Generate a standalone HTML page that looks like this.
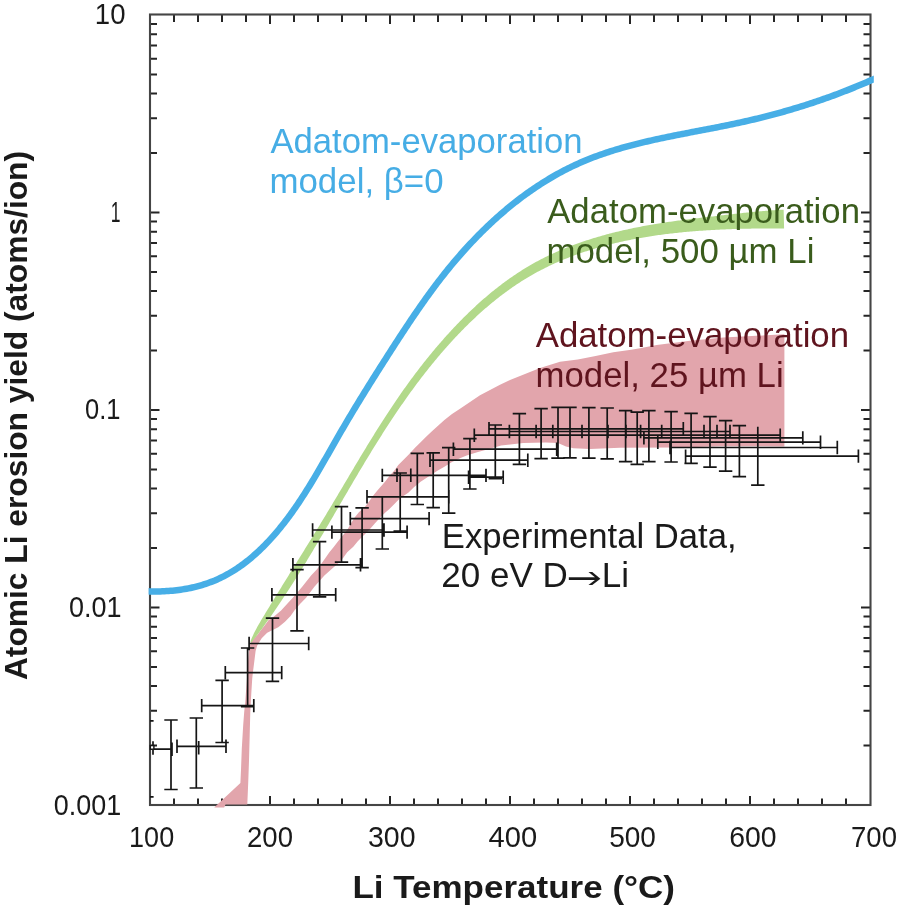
<!DOCTYPE html>
<html><head><meta charset="utf-8"><title>Li erosion yield</title>
<style>
html,body{margin:0;padding:0;background:#fff;}
svg{display:block;}
text{font-family:"Liberation Sans",Arial,sans-serif;}
</style></head>
<body>
<svg width="900" height="909" viewBox="0 0 900 909">
<rect width="900" height="909" fill="#fff"/>
<path d="M174.00 805V798.5M174.00 14.5V22.0M198.00 805V798.5M198.00 14.5V22.0M222.00 805V798.5M222.00 14.5V22.0M246.00 805V798.5M246.00 14.5V22.0M270.00 805V796M270.00 14.5V24.0M294.00 805V798.5M294.00 14.5V22.0M318.00 805V798.5M318.00 14.5V22.0M342.00 805V798.5M342.00 14.5V22.0M366.00 805V798.5M366.00 14.5V22.0M390.00 805V796M390.00 14.5V24.0M414.00 805V798.5M414.00 14.5V22.0M438.00 805V798.5M438.00 14.5V22.0M462.00 805V798.5M462.00 14.5V22.0M486.00 805V798.5M486.00 14.5V22.0M510.00 805V796M510.00 14.5V24.0M534.00 805V798.5M534.00 14.5V22.0M558.00 805V798.5M558.00 14.5V22.0M582.00 805V798.5M582.00 14.5V22.0M606.00 805V798.5M606.00 14.5V22.0M630.00 805V796M630.00 14.5V24.0M654.00 805V798.5M654.00 14.5V22.0M678.00 805V798.5M678.00 14.5V22.0M702.00 805V798.5M702.00 14.5V22.0M726.00 805V798.5M726.00 14.5V22.0M750.00 805V796M750.00 14.5V24.0M774.00 805V798.5M774.00 14.5V22.0M798.00 805V798.5M798.00 14.5V22.0M822.00 805V798.5M822.00 14.5V22.0M846.00 805V798.5M846.00 14.5V22.0M150 745.55H157M870.5 745.55H863.5M150 710.77H157M870.5 710.77H863.5M150 686.09H157M870.5 686.09H863.5M150 666.95H157M870.5 666.95H863.5M150 651.32H157M870.5 651.32H863.5M150 638.09H157M870.5 638.09H863.5M150 626.64H157M870.5 626.64H863.5M150 616.54H157M870.5 616.54H863.5M150 607.50H159.5M870.5 607.50H861.0M150 548.05H157M870.5 548.05H863.5M150 513.27H157M870.5 513.27H863.5M150 488.59H157M870.5 488.59H863.5M150 469.45H157M870.5 469.45H863.5M150 453.82H157M870.5 453.82H863.5M150 440.59H157M870.5 440.59H863.5M150 429.14H157M870.5 429.14H863.5M150 419.04H157M870.5 419.04H863.5M150 410.00H159.5M870.5 410.00H861.0M150 350.55H157M870.5 350.55H863.5M150 315.77H157M870.5 315.77H863.5M150 291.09H157M870.5 291.09H863.5M150 271.95H157M870.5 271.95H863.5M150 256.32H157M870.5 256.32H863.5M150 243.09H157M870.5 243.09H863.5M150 231.64H157M870.5 231.64H863.5M150 221.54H157M870.5 221.54H863.5M150 212.50H159.5M870.5 212.50H861.0M150 153.05H157M870.5 153.05H863.5M150 118.27H157M870.5 118.27H863.5M150 93.59H157M870.5 93.59H863.5M150 74.45H157M870.5 74.45H863.5M150 58.82H157M870.5 58.82H863.5M150 45.59H157M870.5 45.59H863.5M150 34.14H157M870.5 34.14H863.5M150 24.04H157M870.5 24.04H863.5" stroke="#252525" stroke-width="2" fill="none"/>
<rect x="150" y="14.5" width="720.5" height="790.5" fill="none" stroke="#454545" stroke-width="2.1"/>
<path d="M214.20 807.60 L224.20 807.60 L225.50 804.60 L247.30 804.50 L248.20 783.00 L249.00 760.60 L249.70 735.00 L250.30 712.00 L250.90 700.00 L252.20 678.90 L252.80 673.30 L254.20 662.20 L255.60 651.10 L257.20 645.60 L258.90 642.80 L261.70 638.30 L267.20 632.80 L278.30 627.20 L285.00 621.70 L290.60 616.10 L294.40 610.60 L300.00 604.00 L306.10 597.80 L314.40 586.70 L324.40 575.60 L331.70 568.90 L338.30 563.30 L343.30 557.80 L347.20 552.20 L353.30 546.70 L358.00 541.00 L364.00 535.00 L370.00 528.90 L375.00 523.30 L380.00 517.80 L385.60 512.20 L388.90 509.40 L394.40 503.90 L400.00 498.30 L408.30 492.80 L413.90 487.20 L420.60 481.70 L429.40 476.10 L437.00 471.00 L444.40 466.70 L452.00 462.00 L461.10 457.80 L466.70 455.60 L478.00 452.00 L488.90 448.90 L501.10 445.50 L523.30 443.00 L545.60 442.40 L558.00 443.00 L566.00 446.50 L573.30 448.30 L590.00 449.00 L620.00 447.80 L680.00 447.50 L720.00 446.30 L760.00 446.30 L784.40 446.50 L784.40 334.20 L756.70 335.80 L723.30 337.50 L690.00 340.80 L656.70 345.00 L640.00 348.30 L631.10 349.70 L613.30 352.30 L595.60 355.90 L577.80 359.40 L560.00 361.70 L540.00 368.00 L520.00 376.00 L510.00 380.00 L500.00 384.70 L490.00 390.00 L480.00 395.30 L470.00 402.00 L460.00 408.70 L452.00 414.00 L444.40 420.00 L438.30 425.60 L432.20 431.10 L426.10 436.70 L420.60 442.20 L415.00 447.80 L408.30 455.00 L398.30 465.00 L394.40 470.60 L389.40 476.10 L385.00 481.70 L377.80 490.00 L373.30 495.60 L369.40 501.10 L365.00 506.70 L358.90 512.20 L354.40 517.80 L351.10 523.30 L347.80 528.90 L342.80 535.60 L338.30 541.10 L333.90 546.70 L329.40 552.20 L325.60 557.80 L321.70 563.30 L317.20 568.90 L311.10 575.60 L302.20 586.70 L292.80 597.80 L286.10 605.00 L281.10 610.60 L274.00 616.50 L268.70 620.00 L265.00 625.00 L261.00 630.00 L257.30 635.00 L253.00 639.50 L251.10 641.50 L250.00 645.60 L248.90 651.10 L248.00 662.20 L247.50 673.30 L246.90 678.90 L245.40 700.00 L244.20 712.10 L243.20 725.00 L241.80 748.40 L241.00 770.00 L240.40 783.00Z" fill="#e2a5ac"/>
<path d="M250.44 641.44 L250.94 640.13 L251.47 638.82 L252.02 637.51 L252.60 636.21 L253.20 634.90 L253.82 633.60 L254.46 632.29 L255.13 630.99 L255.81 629.69 L256.50 628.39 L257.21 627.09 L257.94 625.79 L258.67 624.49 L259.42 623.19 L260.18 621.90 L260.94 620.60 L261.71 619.31 L262.49 618.01 L263.26 616.72 L264.05 615.43 L264.83 614.13 L265.61 612.84 L266.39 611.55 L267.17 610.26 L267.96 608.97 L268.74 607.68 L269.53 606.39 L270.31 605.11 L271.10 603.82 L271.88 602.53 L272.67 601.25 L273.46 599.96 L274.24 598.68 L275.03 597.39 L275.82 596.11 L276.61 594.83 L277.39 593.55 L278.18 592.26 L278.97 590.98 L279.76 589.70 L280.55 588.42 L281.34 587.14 L282.13 585.86 L282.92 584.58 L283.71 583.30 L284.50 582.02 L285.29 580.74 L286.08 579.47 L286.87 578.19 L287.66 576.91 L288.45 575.63 L289.24 574.36 L290.03 573.08 L290.82 571.80 L291.61 570.53 L292.40 569.25 L293.19 567.98 L293.98 566.70 L294.77 565.43 L295.56 564.15 L296.35 562.88 L297.14 561.60 L297.93 560.33 L298.72 559.05 L299.51 557.78 L300.30 556.50 L301.09 555.23 L301.88 553.95 L302.67 552.68 L303.46 551.41 L304.24 550.13 L305.03 548.86 L305.82 547.58 L306.61 546.31 L307.39 545.03 L308.18 543.76 L308.97 542.48 L309.75 541.21 L310.54 539.94 L311.32 538.66 L312.11 537.39 L312.89 536.11 L313.67 534.84 L314.46 533.56 L315.24 532.28 L316.02 531.01 L316.80 529.73 L317.58 528.46 L318.36 527.18 L319.14 525.90 L319.92 524.63 L320.70 523.35 L321.48 522.07 L322.26 520.79 L323.03 519.51 L323.81 518.24 L324.59 516.96 L325.36 515.68 L326.13 514.40 L326.91 513.12 L327.68 511.84 L328.45 510.56 L329.22 509.27 L329.99 507.99 L330.76 506.71 L331.53 505.43 L332.30 504.14 L333.07 502.86 L333.83 501.58 L334.60 500.29 L335.36 499.01 L336.13 497.72 L336.89 496.44 L337.66 495.15 L338.42 493.87 L339.18 492.58 L339.95 491.29 L340.71 490.01 L341.47 488.72 L342.24 487.44 L343.00 486.15 L343.76 484.86 L344.52 483.58 L345.28 482.29 L346.05 481.00 L346.81 479.72 L347.57 478.43 L348.33 477.14 L349.10 475.86 L349.86 474.57 L350.62 473.28 L351.38 472.00 L352.15 470.71 L352.91 469.43 L353.68 468.14 L354.44 466.86 L355.21 465.57 L355.97 464.29 L356.74 463.00 L357.51 461.72 L358.27 460.44 L359.04 459.15 L359.81 457.87 L360.58 456.59 L361.35 455.31 L362.12 454.02 L362.89 452.74 L363.67 451.46 L364.44 450.18 L365.22 448.90 L365.99 447.63 L366.77 446.35 L367.55 445.07 L368.33 443.79 L369.11 442.52 L369.89 441.24 L370.67 439.97 L371.46 438.69 L372.24 437.42 L373.03 436.15 L373.82 434.88 L374.61 433.61 L375.40 432.34 L376.19 431.07 L376.99 429.80 L377.79 428.53 L378.58 427.27 L379.38 426.00 L380.19 424.74 L380.99 423.47 L381.79 422.21 L382.60 420.95 L383.41 419.69 L384.22 418.43 L385.03 417.17 L385.85 415.92 L386.66 414.66 L387.48 413.41 L388.30 412.15 L389.13 410.90 L389.95 409.65 L390.78 408.40 L391.61 407.15 L392.44 405.91 L393.28 404.66 L394.11 403.42 L394.95 402.18 L395.80 400.93 L396.64 399.69 L397.49 398.46 L398.34 397.22 L399.19 395.98 L400.05 394.75 L400.90 393.52 L401.76 392.29 L402.63 391.06 L403.49 389.83 L404.36 388.60 L405.23 387.38 L406.11 386.16 L406.99 384.94 L407.87 383.72 L408.75 382.50 L409.64 381.29 L410.53 380.07 L411.42 378.86 L412.31 377.65 L413.21 376.44 L414.11 375.24 L415.01 374.03 L415.92 372.83 L416.83 371.63 L417.74 370.44 L418.66 369.24 L419.58 368.05 L420.50 366.86 L421.42 365.67 L422.35 364.48 L423.28 363.30 L424.22 362.11 L425.15 360.93 L426.09 359.76 L427.04 358.58 L427.98 357.41 L428.93 356.24 L429.88 355.07 L430.84 353.91 L431.80 352.74 L432.76 351.58 L433.73 350.43 L434.69 349.27 L435.67 348.12 L436.64 346.97 L437.62 345.82 L438.60 344.68 L439.58 343.54 L440.57 342.40 L441.56 341.26 L442.56 340.13 L443.55 339.00 L444.55 337.87 L445.56 336.75 L446.57 335.62 L447.58 334.51 L448.59 333.39 L449.61 332.28 L450.63 331.17 L451.65 330.06 L452.68 328.96 L453.71 327.86 L454.74 326.76 L455.78 325.67 L456.82 324.58 L457.87 323.49 L458.92 322.41 L459.97 321.33 L461.02 320.26 L462.08 319.18 L463.14 318.12 L464.21 317.05 L465.28 315.99 L466.35 314.94 L467.42 313.88 L468.50 312.83 L469.59 311.79 L470.67 310.75 L471.76 309.71 L472.86 308.68 L473.95 307.66 L475.05 306.63 L476.16 305.61 L477.27 304.60 L478.38 303.59 L479.49 302.59 L480.61 301.59 L481.73 300.59 L482.86 299.60 L483.99 298.62 L485.12 297.64 L486.26 296.67 L487.40 295.70 L488.55 294.73 L489.69 293.77 L490.85 292.82 L492.00 291.87 L493.16 290.93 L494.33 289.99 L495.49 289.06 L496.66 288.13 L497.84 287.21 L499.02 286.30 L500.20 285.39 L501.39 284.49 L502.58 283.59 L503.77 282.70 L504.97 281.82 L506.17 280.94 L507.38 280.07 L508.59 279.20 L509.80 278.34 L511.02 277.49 L512.24 276.64 L513.47 275.80 L514.70 274.97 L515.93 274.14 L517.17 273.32 L518.41 272.51 L519.65 271.70 L520.90 270.90 L522.16 270.11 L523.41 269.33 L524.68 268.55 L525.94 267.78 L527.21 267.01 L528.48 266.26 L529.76 265.51 L531.04 264.77 L532.33 264.03 L533.62 263.30 L534.92 262.59 L536.21 261.87 L537.52 261.17 L538.82 260.47 L540.13 259.78 L541.45 259.10 L542.76 258.43 L544.09 257.76 L545.41 257.10 L546.74 256.44 L548.07 255.80 L549.41 255.16 L550.75 254.52 L552.09 253.90 L553.44 253.28 L554.79 252.67 L556.15 252.06 L557.50 251.46 L558.87 250.87 L560.23 250.28 L561.60 249.71 L562.97 249.13 L564.34 248.57 L565.72 248.01 L567.10 247.46 L568.48 246.91 L569.87 246.37 L571.26 245.83 L572.65 245.31 L574.05 244.78 L575.45 244.27 L576.85 243.76 L578.25 243.25 L579.66 242.76 L581.07 242.27 L582.48 241.78 L583.90 241.30 L585.31 240.83 L586.73 240.36 L588.16 239.89 L589.58 239.44 L591.01 238.98 L592.44 238.54 L593.87 238.10 L595.31 237.66 L596.75 237.23 L598.19 236.81 L599.63 236.39 L601.07 235.98 L602.52 235.57 L603.97 235.16 L605.42 234.77 L606.87 234.37 L608.32 233.99 L609.78 233.60 L611.24 233.22 L612.70 232.85 L614.16 232.48 L615.63 232.12 L617.09 231.76 L618.56 231.41 L620.03 231.06 L621.50 230.71 L622.97 230.37 L624.45 230.04 L625.92 229.71 L627.40 229.38 L628.88 229.06 L630.36 228.74 L631.84 228.43 L633.32 228.12 L634.81 227.81 L636.29 227.51 L637.78 227.21 L639.27 226.92 L640.75 226.63 L642.24 226.35 L643.74 226.07 L645.23 225.79 L646.72 225.52 L648.22 225.25 L649.71 224.98 L651.21 224.72 L652.70 224.46 L654.20 224.21 L655.70 223.96 L657.20 223.71 L658.70 223.47 L660.20 223.23 L661.70 222.99 L663.20 222.76 L664.70 222.53 L666.21 222.30 L667.71 222.07 L669.21 221.85 L670.72 221.64 L672.22 221.42 L673.72 221.21 L675.23 221.00 L676.73 220.79 L678.24 220.59 L679.74 220.39 L681.25 220.19 L682.76 219.99 L684.26 219.80 L685.77 219.60 L687.27 219.41 L688.78 219.22 L690.28 219.04 L691.79 218.85 L693.29 218.67 L694.80 218.49 L696.30 218.31 L697.80 218.13 L699.31 217.95 L700.81 217.77 L702.31 217.60 L703.82 217.42 L705.32 217.25 L706.82 217.08 L708.32 216.90 L709.82 216.73 L711.32 216.56 L712.82 216.39 L714.31 216.22 L715.81 216.05 L717.31 215.88 L718.80 215.71 L720.30 215.54 L721.79 215.37 L723.28 215.20 L724.77 215.03 L726.26 214.86 L727.75 214.69 L729.24 214.52 L730.73 214.36 L732.21 214.19 L733.70 214.02 L735.18 213.85 L736.66 213.68 L738.14 213.52 L739.62 213.36 L741.10 213.19 L742.57 213.03 L744.05 212.87 L745.52 212.71 L746.99 212.56 L748.46 212.41 L749.93 212.25 L751.40 212.11 L752.86 211.96 L754.32 211.82 L755.78 211.68 L757.24 211.54 L758.70 211.40 L760.15 211.27 L761.61 211.14 L763.06 211.02 L764.51 210.90 L765.95 210.78 L767.40 210.67 L768.84 210.56 L770.28 210.46 L771.72 210.36 L773.15 210.26 L774.59 210.17 L776.02 210.09 L777.44 210.01 L778.87 209.93 L780.29 209.86 L781.71 209.80 L783.13 209.74 L783.65 209.72 L784.10 228.43 L782.83 228.43 L781.38 228.42 L779.93 228.42 L778.47 228.42 L777.01 228.41 L775.56 228.42 L774.10 228.42 L772.63 228.42 L771.17 228.42 L769.70 228.43 L768.24 228.43 L766.77 228.44 L765.29 228.45 L763.82 228.46 L762.35 228.47 L760.87 228.49 L759.39 228.50 L757.91 228.52 L756.43 228.54 L754.95 228.56 L753.46 228.58 L751.98 228.61 L750.49 228.63 L749.00 228.66 L747.51 228.69 L746.02 228.72 L744.53 228.75 L743.03 228.79 L741.54 228.83 L740.04 228.86 L738.55 228.91 L737.05 228.95 L735.55 229.00 L734.05 229.04 L732.55 229.09 L731.04 229.15 L729.54 229.20 L728.04 229.26 L726.53 229.32 L725.03 229.38 L723.52 229.45 L722.01 229.51 L720.50 229.58 L719.00 229.65 L717.49 229.73 L715.98 229.81 L714.47 229.89 L712.96 229.97 L711.45 230.06 L709.93 230.15 L708.42 230.24 L706.91 230.33 L705.40 230.43 L703.89 230.53 L702.37 230.63 L700.86 230.74 L699.35 230.85 L697.83 230.96 L696.32 231.08 L694.80 231.20 L693.29 231.32 L691.78 231.44 L690.26 231.57 L688.75 231.71 L687.24 231.84 L685.72 231.98 L684.21 232.12 L682.70 232.27 L681.19 232.42 L679.67 232.57 L678.16 232.73 L676.65 232.89 L675.14 233.06 L673.63 233.22 L672.12 233.40 L670.61 233.57 L669.10 233.75 L667.59 233.93 L666.08 234.12 L664.58 234.31 L663.07 234.51 L661.56 234.71 L660.06 234.91 L658.56 235.12 L657.05 235.33 L655.55 235.55 L654.05 235.77 L652.55 235.99 L651.05 236.22 L649.55 236.45 L648.05 236.69 L646.56 236.93 L645.06 237.18 L643.57 237.43 L642.08 237.69 L640.58 237.95 L639.09 238.21 L637.61 238.48 L636.12 238.75 L634.63 239.03 L633.15 239.32 L631.66 239.60 L630.18 239.90 L628.70 240.20 L627.23 240.50 L625.75 240.81 L624.27 241.12 L622.80 241.44 L621.33 241.76 L619.86 242.09 L618.39 242.42 L616.92 242.76 L615.46 243.11 L614.00 243.45 L612.54 243.81 L611.08 244.17 L609.62 244.53 L608.17 244.90 L606.72 245.28 L605.27 245.66 L603.82 246.05 L602.37 246.44 L600.93 246.84 L599.49 247.24 L598.05 247.65 L596.61 248.07 L595.18 248.49 L593.75 248.91 L592.32 249.35 L590.89 249.79 L589.47 250.23 L588.05 250.68 L586.63 251.14 L585.21 251.60 L583.80 252.07 L582.39 252.54 L580.98 253.02 L579.57 253.51 L578.17 254.00 L576.77 254.50 L575.37 255.01 L573.98 255.52 L572.59 256.04 L571.20 256.56 L569.82 257.09 L568.43 257.63 L567.06 258.17 L565.68 258.72 L564.31 259.28 L562.94 259.85 L561.57 260.42 L560.21 260.99 L558.85 261.58 L557.50 262.17 L556.14 262.77 L554.80 263.37 L553.45 263.98 L552.11 264.60 L550.77 265.23 L549.44 265.86 L548.11 266.50 L546.78 267.14 L545.45 267.80 L544.14 268.46 L542.82 269.13 L541.51 269.80 L540.20 270.48 L538.89 271.17 L537.59 271.87 L536.30 272.57 L535.00 273.29 L533.72 274.01 L532.43 274.73 L531.15 275.47 L529.88 276.21 L528.60 276.96 L527.34 277.72 L526.07 278.48 L524.81 279.25 L523.56 280.03 L522.30 280.81 L521.06 281.61 L519.81 282.41 L518.57 283.21 L517.34 284.03 L516.11 284.85 L514.88 285.67 L513.65 286.51 L512.43 287.35 L511.22 288.20 L510.01 289.05 L508.80 289.91 L507.59 290.78 L506.39 291.65 L505.20 292.53 L504.00 293.41 L502.82 294.30 L501.63 295.20 L500.45 296.11 L499.27 297.01 L498.10 297.93 L496.93 298.85 L495.77 299.78 L494.60 300.71 L493.45 301.65 L492.29 302.59 L491.14 303.54 L489.99 304.50 L488.85 305.46 L487.71 306.43 L486.58 307.40 L485.44 308.37 L484.32 309.36 L483.19 310.34 L482.07 311.33 L480.95 312.33 L479.84 313.33 L478.73 314.34 L477.62 315.35 L476.52 316.37 L475.42 317.39 L474.33 318.42 L473.24 319.45 L472.15 320.48 L471.06 321.52 L469.98 322.56 L468.90 323.61 L467.83 324.66 L466.76 325.72 L465.69 326.78 L464.63 327.85 L463.57 328.92 L462.51 329.99 L461.46 331.07 L460.41 332.15 L459.36 333.23 L458.32 334.32 L457.28 335.41 L456.25 336.51 L455.21 337.61 L454.19 338.71 L453.16 339.82 L452.14 340.93 L451.12 342.04 L450.10 343.16 L449.09 344.28 L448.08 345.40 L447.08 346.53 L446.08 347.66 L445.08 348.80 L444.08 349.93 L443.09 351.07 L442.10 352.22 L441.11 353.36 L440.13 354.51 L439.15 355.66 L438.18 356.82 L437.20 357.98 L436.23 359.14 L435.27 360.30 L434.30 361.47 L433.34 362.63 L432.39 363.81 L431.43 364.98 L430.48 366.16 L429.53 367.33 L428.59 368.52 L427.65 369.70 L426.71 370.89 L425.78 372.07 L424.84 373.26 L423.91 374.46 L422.99 375.65 L422.07 376.85 L421.15 378.05 L420.23 379.25 L419.32 380.45 L418.40 381.66 L417.50 382.87 L416.59 384.07 L415.69 385.29 L414.79 386.50 L413.90 387.71 L413.00 388.93 L412.11 390.15 L411.22 391.36 L410.34 392.59 L409.46 393.81 L408.58 395.03 L407.71 396.26 L406.83 397.48 L405.96 398.71 L405.09 399.94 L404.23 401.17 L403.37 402.40 L402.51 403.64 L401.65 404.87 L400.80 406.11 L399.95 407.35 L399.10 408.59 L398.25 409.83 L397.41 411.07 L396.56 412.31 L395.72 413.55 L394.89 414.80 L394.05 416.05 L393.22 417.29 L392.39 418.54 L391.56 419.79 L390.74 421.04 L389.91 422.30 L389.09 423.55 L388.27 424.80 L387.45 426.06 L386.64 427.32 L385.82 428.57 L385.01 429.83 L384.20 431.09 L383.40 432.35 L382.59 433.61 L381.79 434.88 L380.98 436.14 L380.18 437.40 L379.39 438.67 L378.59 439.94 L377.79 441.20 L377.00 442.47 L376.21 443.74 L375.42 445.01 L374.63 446.28 L373.84 447.55 L373.06 448.82 L372.27 450.10 L371.49 451.37 L370.71 452.65 L369.93 453.92 L369.15 455.20 L368.37 456.47 L367.60 457.75 L366.82 459.03 L366.05 460.31 L365.28 461.58 L364.51 462.86 L363.74 464.14 L362.97 465.43 L362.20 466.71 L361.43 467.99 L360.67 469.27 L359.90 470.55 L359.14 471.84 L358.37 473.12 L357.61 474.41 L356.85 475.69 L356.09 476.98 L355.33 478.26 L354.57 479.55 L353.81 480.83 L353.06 482.12 L352.30 483.41 L351.54 484.69 L350.79 485.98 L350.03 487.27 L349.28 488.56 L348.52 489.85 L347.77 491.14 L347.02 492.42 L346.26 493.71 L345.51 495.00 L344.76 496.29 L344.01 497.58 L343.26 498.87 L342.50 500.16 L341.75 501.45 L341.00 502.74 L340.25 504.03 L339.50 505.32 L338.75 506.61 L338.00 507.90 L337.25 509.19 L336.50 510.48 L335.75 511.77 L335.00 513.07 L334.25 514.36 L333.50 515.65 L332.75 516.94 L331.99 518.23 L331.24 519.52 L330.49 520.81 L329.74 522.09 L328.99 523.38 L328.23 524.67 L327.48 525.96 L326.73 527.25 L325.97 528.54 L325.22 529.83 L324.46 531.12 L323.71 532.40 L322.95 533.69 L322.20 534.98 L321.44 536.26 L320.68 537.55 L319.92 538.84 L319.16 540.12 L318.40 541.41 L317.64 542.69 L316.88 543.98 L316.12 545.26 L315.35 546.54 L314.59 547.83 L313.82 549.11 L313.06 550.39 L312.29 551.67 L311.52 552.95 L310.75 554.24 L309.98 555.51 L309.21 556.79 L308.44 558.07 L307.66 559.35 L306.89 560.63 L306.11 561.90 L305.33 563.18 L304.56 564.46 L303.77 565.73 L302.99 567.00 L302.21 568.28 L301.42 569.55 L300.64 570.82 L299.85 572.09 L299.06 573.36 L298.27 574.63 L297.48 575.90 L296.68 577.17 L295.89 578.43 L295.09 579.70 L294.29 580.96 L293.49 582.23 L292.69 583.49 L291.88 584.75 L291.07 586.01 L290.27 587.27 L289.46 588.53 L288.64 589.79 L287.83 591.05 L287.01 592.30 L286.19 593.56 L285.37 594.81 L284.55 596.06 L283.73 597.31 L282.90 598.56 L282.07 599.81 L281.24 601.06 L280.40 602.31 L279.57 603.55 L278.73 604.80 L277.89 606.04 L277.05 607.28 L276.20 608.52 L275.35 609.76 L274.50 611.00 L273.65 612.24 L272.79 613.47 L271.94 614.71 L271.08 615.94 L270.21 617.17 L269.35 618.40 L268.48 619.63 L267.61 620.85 L266.73 622.08 L265.85 623.30 L264.97 624.53 L264.09 625.75 L263.21 626.97 L262.32 628.18 L261.43 629.40 L260.53 630.62 L259.63 631.83 L258.73 633.04 L257.83 634.25 L256.92 635.46 L256.01 636.67 L255.10 637.87 L254.18 639.07 L253.26 640.28 L252.34 641.48 L251.41 642.67Z" fill="#b2d98a"/>
<clipPath id="bc"><rect x="148.6" y="0" width="725.2" height="909"/></clipPath>
<path d="M139.19 590.86 L141.32 591.00 L143.45 591.13 L145.57 591.23 L147.69 591.32 L149.80 591.38 L151.90 591.42 L154.00 591.44 L156.09 591.44 L158.17 591.42 L160.25 591.38 L162.32 591.31 L164.39 591.22 L166.44 591.11 L168.49 590.97 L170.53 590.82 L172.57 590.64 L174.59 590.43 L176.61 590.20 L178.62 589.95 L180.61 589.68 L182.60 589.38 L184.59 589.05 L186.56 588.71 L188.52 588.33 L190.47 587.94 L192.41 587.51 L194.34 587.07 L196.26 586.59 L198.17 586.09 L200.07 585.57 L201.96 585.02 L203.84 584.44 L205.71 583.84 L207.56 583.21 L209.40 582.55 L211.23 581.87 L213.05 581.15 L214.86 580.42 L216.65 579.65 L218.43 578.86 L220.20 578.04 L221.95 577.19 L223.69 576.31 L225.42 575.41 L227.13 574.48 L228.83 573.52 L230.52 572.54 L232.20 571.53 L233.86 570.50 L235.51 569.45 L237.15 568.37 L238.77 567.26 L240.38 566.14 L241.98 564.99 L243.57 563.82 L245.14 562.63 L246.70 561.42 L248.25 560.19 L249.79 558.94 L251.31 557.67 L252.82 556.38 L254.32 555.08 L255.81 553.75 L257.29 552.41 L258.75 551.05 L260.20 549.68 L261.64 548.28 L263.07 546.88 L264.48 545.46 L265.88 544.02 L267.28 542.57 L268.66 541.11 L270.02 539.63 L271.38 538.14 L272.72 536.64 L274.06 535.13 L275.38 533.60 L276.69 532.07 L277.99 530.52 L279.28 528.97 L280.55 527.40 L281.82 525.83 L283.07 524.25 L284.31 522.66 L285.54 521.06 L286.76 519.46 L287.97 517.85 L289.17 516.23 L290.36 514.61 L291.54 512.98 L292.71 511.34 L293.87 509.70 L295.02 508.05 L296.17 506.40 L297.30 504.74 L298.43 503.07 L299.54 501.40 L300.65 499.73 L301.76 498.05 L302.85 496.36 L303.94 494.67 L305.02 492.98 L306.09 491.28 L307.16 489.58 L308.22 487.88 L309.28 486.17 L310.33 484.45 L311.38 482.74 L312.42 481.02 L313.45 479.30 L314.48 477.58 L315.51 475.85 L316.53 474.12 L317.55 472.39 L318.56 470.66 L319.57 468.93 L320.58 467.19 L321.59 465.45 L322.59 463.72 L323.59 461.98 L324.59 460.24 L325.59 458.50 L326.58 456.76 L327.58 455.02 L328.57 453.28 L329.56 451.54 L330.55 449.80 L331.54 448.06 L332.53 446.32 L333.52 444.58 L334.51 442.84 L335.51 441.10 L336.50 439.37 L337.49 437.64 L338.49 435.91 L339.49 434.18 L340.48 432.45 L341.49 430.72 L342.49 429.00 L343.49 427.28 L344.50 425.56 L345.51 423.85 L346.52 422.13 L347.53 420.42 L348.55 418.71 L349.56 417.00 L350.58 415.29 L351.60 413.59 L352.63 411.89 L353.65 410.18 L354.68 408.48 L355.70 406.79 L356.73 405.09 L357.76 403.39 L358.80 401.70 L359.83 400.01 L360.87 398.31 L361.91 396.62 L362.95 394.93 L363.99 393.25 L365.03 391.56 L366.08 389.87 L367.12 388.19 L368.17 386.50 L369.22 384.82 L370.27 383.14 L371.33 381.45 L372.38 379.77 L373.44 378.09 L374.49 376.41 L375.55 374.73 L376.61 373.05 L377.67 371.37 L378.74 369.70 L379.80 368.02 L380.87 366.34 L381.93 364.66 L383.00 362.98 L384.07 361.31 L385.14 359.63 L386.22 357.95 L387.29 356.27 L388.37 354.60 L389.44 352.92 L390.52 351.24 L391.60 349.56 L392.68 347.88 L393.76 346.21 L394.84 344.53 L395.93 342.85 L397.01 341.17 L398.10 339.50 L399.19 337.82 L400.29 336.14 L401.38 334.47 L402.48 332.79 L403.58 331.12 L404.68 329.45 L405.78 327.77 L406.89 326.10 L408.00 324.43 L409.11 322.77 L410.23 321.10 L411.35 319.44 L412.47 317.77 L413.60 316.11 L414.73 314.45 L415.86 312.80 L417.00 311.14 L418.14 309.49 L419.28 307.84 L420.43 306.19 L421.58 304.54 L422.73 302.90 L423.89 301.26 L425.06 299.62 L426.23 297.98 L427.40 296.35 L428.58 294.72 L429.76 293.10 L430.95 291.47 L432.14 289.85 L433.34 288.24 L434.54 286.63 L435.75 285.02 L436.97 283.41 L438.19 281.81 L439.41 280.21 L440.64 278.62 L441.88 277.03 L443.12 275.45 L444.37 273.87 L445.62 272.29 L446.88 270.72 L448.15 269.15 L449.42 267.59 L450.70 266.03 L451.99 264.48 L453.28 262.94 L454.58 261.39 L455.88 259.86 L457.19 258.33 L458.51 256.80 L459.83 255.28 L461.16 253.76 L462.50 252.25 L463.84 250.75 L465.19 249.25 L466.55 247.76 L467.91 246.28 L469.28 244.80 L470.65 243.32 L472.03 241.86 L473.42 240.40 L474.81 238.95 L476.21 237.50 L477.61 236.06 L479.03 234.63 L480.44 233.20 L481.87 231.78 L483.30 230.37 L484.74 228.97 L486.18 227.57 L487.63 226.18 L489.08 224.80 L490.55 223.42 L492.01 222.06 L493.49 220.70 L494.97 219.35 L496.46 218.01 L497.95 216.67 L499.45 215.35 L500.96 214.03 L502.47 212.72 L503.99 211.42 L505.51 210.13 L507.04 208.84 L508.58 207.57 L510.12 206.30 L511.67 205.05 L513.23 203.80 L514.79 202.56 L516.36 201.34 L517.93 200.12 L519.51 198.91 L521.10 197.71 L522.69 196.52 L524.29 195.34 L525.90 194.17 L527.51 193.01 L529.13 191.86 L530.75 190.72 L532.39 189.59 L534.02 188.47 L535.67 187.36 L537.32 186.26 L538.97 185.18 L540.63 184.10 L542.30 183.04 L543.97 181.98 L545.66 180.94 L547.34 179.91 L549.04 178.89 L550.73 177.88 L552.44 176.88 L554.15 175.90 L555.87 174.92 L557.59 173.96 L559.32 173.01 L561.06 172.07 L562.80 171.15 L564.55 170.23 L566.31 169.33 L568.07 168.44 L569.84 167.56 L571.61 166.70 L573.39 165.85 L575.17 165.01 L576.97 164.18 L578.76 163.37 L580.57 162.57 L582.38 161.79 L584.20 161.01 L586.02 160.25 L587.85 159.51 L589.68 158.77 L591.52 158.05 L593.37 157.34 L595.22 156.64 L597.08 155.95 L598.94 155.28 L600.81 154.61 L602.68 153.96 L604.56 153.32 L606.44 152.69 L608.33 152.06 L610.22 151.45 L612.11 150.85 L614.01 150.26 L615.92 149.68 L617.83 149.11 L619.74 148.54 L621.66 147.99 L623.58 147.44 L625.50 146.90 L627.43 146.37 L629.36 145.85 L631.30 145.34 L633.24 144.83 L635.18 144.33 L637.13 143.84 L639.07 143.36 L641.02 142.88 L642.98 142.40 L644.93 141.94 L646.89 141.48 L648.85 141.02 L650.82 140.58 L652.78 140.13 L654.75 139.69 L656.72 139.26 L658.69 138.83 L660.67 138.41 L662.64 137.99 L664.62 137.57 L666.60 137.16 L668.58 136.75 L670.56 136.35 L672.54 135.95 L674.53 135.55 L676.51 135.15 L678.50 134.76 L680.48 134.37 L682.47 133.98 L684.46 133.59 L686.44 133.20 L688.43 132.82 L690.42 132.43 L692.41 132.05 L694.39 131.67 L696.38 131.29 L698.37 130.91 L700.36 130.53 L702.34 130.15 L704.33 129.77 L706.31 129.38 L708.30 129.00 L710.28 128.62 L712.27 128.23 L714.25 127.85 L716.23 127.46 L718.21 127.07 L720.18 126.68 L722.16 126.28 L724.13 125.89 L726.11 125.49 L728.08 125.08 L730.05 124.68 L732.01 124.27 L733.98 123.86 L735.94 123.44 L737.90 123.02 L739.86 122.59 L741.81 122.17 L743.76 121.73 L745.71 121.29 L747.66 120.85 L749.60 120.40 L751.54 119.95 L753.48 119.49 L755.42 119.03 L757.35 118.56 L759.28 118.09 L761.21 117.61 L763.14 117.13 L765.07 116.65 L766.99 116.16 L768.91 115.66 L770.83 115.16 L772.75 114.65 L774.66 114.14 L776.57 113.62 L778.48 113.10 L780.39 112.57 L782.30 112.04 L784.20 111.50 L786.11 110.96 L788.01 110.41 L789.91 109.86 L791.81 109.30 L793.70 108.74 L795.60 108.17 L797.49 107.59 L799.38 107.01 L801.27 106.42 L803.16 105.83 L805.05 105.23 L806.94 104.63 L808.82 104.02 L810.70 103.41 L812.59 102.79 L814.47 102.16 L816.35 101.53 L818.23 100.89 L820.10 100.25 L821.98 99.60 L823.86 98.94 L825.73 98.28 L827.60 97.61 L829.48 96.94 L831.35 96.26 L833.22 95.58 L835.09 94.88 L836.96 94.19 L838.83 93.48 L840.70 92.77 L842.56 92.06 L844.43 91.33 L846.30 90.60 L848.16 89.87 L850.03 89.13 L851.89 88.38 L853.76 87.62 L855.62 86.86 L857.49 86.09 L859.35 85.32 L861.21 84.54 L863.08 83.75 L864.94 82.96 L866.80 82.16 L868.66 81.35 L870.53 80.54 L872.39 79.72 L874.25 78.89 L876.12 78.05 L877.98 77.21 L879.04 76.73" stroke="#47aee6" stroke-width="6.5" fill="none" clip-path="url(#bc)" stroke-linejoin="round"/>
<path d="M171 720V789.5M164.30 720H177.70M164.30 789.5H177.70M196.3 718V788M189.60 718H203.00M189.60 788H203.00M222.1 680.4V742.5M215.40 680.4H228.80M215.40 742.5H228.80M247.6 648V706.7M240.90 648H254.30M240.90 706.7H254.30M272.5 618.1V681.4M265.80 618.1H279.20M265.80 681.4H279.20M297 569.6V630.8M290.30 569.6H303.70M290.30 630.8H303.70M319.6 541.7V596.8M312.90 541.7H326.30M312.90 596.8H326.30M341.5 506.6V562.1M334.80 506.6H348.20M334.80 562.1H348.20M362.1 507.9V567.7M355.40 507.9H368.80M355.40 567.7H368.80M382.3 496.8V549M375.60 496.8H389.00M375.60 549H389.00M400.2 473V531M393.50 473H406.90M393.50 531H406.90M417.3 453.3V504.5M410.60 453.3H424.00M410.60 504.5H424.00M433.2 452.8V507.6M426.50 452.8H439.90M426.50 507.6H439.90M448.7 447.7V513.1M442.00 447.7H455.40M442.00 513.1H455.40M469.9 438.7V489M463.20 438.7H476.60M463.20 489H476.60M495.3 425V478.7M488.60 425H502.00M488.60 478.7H502.00M519.4 413.7V464.4M512.70 413.7H526.10M512.70 464.4H526.10M541.1 408.6V458.6M534.40 408.6H547.80M534.40 458.6H547.80M558 407.4V458.1M551.30 407.4H564.70M551.30 458.1H564.70M570 407.4V457.8M563.30 407.4H576.70M563.30 457.8H576.70M588.9 407.7V458.2M582.20 407.7H595.60M582.20 458.2H595.60M607.2 408V458.9M600.50 408H613.90M600.50 458.9H613.90M625.6 410.6V461.7M618.90 410.6H632.30M618.90 461.7H632.30M637.2 412.2V464.4M630.50 412.2H643.90M630.50 464.4H643.90M648.9 410.6V461.7M642.20 410.6H655.60M642.20 461.7H655.60M671.1 411.7V462M664.40 411.7H677.80M664.40 462H677.80M691.1 413.3V463.3M684.40 413.3H697.80M684.40 463.3H697.80M710 416.7V467.2M703.30 416.7H716.70M703.30 467.2H716.70M725.6 420.6V471.1M718.90 420.6H732.30M718.90 471.1H732.30M739.4 425.6V476.7M732.70 425.6H746.10M732.70 476.7H746.10M757.8 426.7V485.2M751.10 485.2H764.50M177 746.3H226M177 739.60V753.00M226 739.60V753.00M201.7 705.6H253.8M201.7 698.90V712.30M253.8 698.90V712.30M225.3 672.6H281.7M225.3 665.90V679.30M281.7 665.90V679.30M249.1 643.5H308.7M249.1 636.80V650.20M308.7 636.80V650.20M271.9 594.8H335.7M271.9 588.10V601.50M335.7 588.10V601.50M292.9 564.8H360.5M292.9 558.10V571.50M360.5 558.10V571.50M312.6 530H384M312.6 523.30V536.70M384 523.30V536.70M331.9 532.1H407.1M331.9 525.40V538.80M407.1 525.40V538.80M350.3 518.6H429.1M350.3 511.90V525.30M429.1 511.90V525.30M367 496.8H448.9M367 490.10V503.50M448.9 490.10V503.50M382.3 475.4H486M382.3 468.70V482.10M486 468.70V482.10M468.6 477.2H503.2M468.6 470.50V483.90M503.2 470.50V483.90M430 460.2H527.8M430 453.50V466.90M527.8 453.50V466.90M453.4 449.2H556.7M453.4 442.50V455.90M556.7 442.50V455.90M474.3 435.2H780.2M474.3 428.50V441.90M780.2 428.50V441.90M489 428.8H683.3M489 422.10V435.50M683.3 422.10V435.50M509.4 431.5H730M509.4 424.80V438.20M730 424.80V438.20M643.9 437.9H802.8M643.9 431.20V444.60M802.8 431.20V444.60M657.8 442.2H820.5M657.8 435.50V448.90M820.5 435.50V448.90M670 447.5H837.3M670 440.80V454.20M837.3 440.80V454.20M685.6 456.1H858.4M685.6 449.40V462.80M858.4 449.40V462.80M150.5 749.2H172M172 742.50V755.90M150.5 746.2H153M153 741.30V754.70M198.7 741.10V754.50M397 468.60V482.00M410.8 468.60V482.00M536.1 424.80V438.20M552.8 424.80V438.20M582 424.80V438.20M608 424.80V438.20M626 424.80V438.20M640.6 424.80V438.20M661.7 424.80V438.20M704 424.80V438.20M717 424.80V438.20M730 424.80V438.20" stroke="#151515" stroke-width="1.7" fill="none"/>
<rect x="150.3" y="745.6" width="3.6" height="3.6" fill="#fff" stroke="#151515" stroke-width="1.4"/>
<path d="M150 720.8H153.6M150 796.9H153.6" stroke="#151515" stroke-width="1.7"/>
<text x="94.86" y="24.0" font-size="29.5" fill="#1a1a1a" textLength="30.65" lengthAdjust="spacingAndGlyphs">10</text>
<text x="110.77" y="222.0" font-size="29.5" fill="#1a1a1a" textLength="9.76" lengthAdjust="spacingAndGlyphs">1</text>
<text x="85.11" y="418.8" font-size="29.5" fill="#1a1a1a" textLength="35.43" lengthAdjust="spacingAndGlyphs">0.1</text>
<text x="69.05" y="617.2" font-size="29.5" fill="#1a1a1a" textLength="52.57" lengthAdjust="spacingAndGlyphs">0.01</text>
<text x="53.85" y="815.0" font-size="29.5" fill="#1a1a1a" textLength="67.42" lengthAdjust="spacingAndGlyphs">0.001</text>
<text x="129.11" y="847.2" font-size="29.5" fill="#1a1a1a" textLength="45.05" lengthAdjust="spacingAndGlyphs">100</text>
<text x="247.03" y="847.2" font-size="29.5" fill="#1a1a1a" textLength="45.93" lengthAdjust="spacingAndGlyphs">200</text>
<text x="368.00" y="847.2" font-size="29.5" fill="#1a1a1a" textLength="47.56" lengthAdjust="spacingAndGlyphs">300</text>
<text x="488.58" y="847.2" font-size="29.5" fill="#1a1a1a" textLength="48.59" lengthAdjust="spacingAndGlyphs">400</text>
<text x="609.21" y="847.2" font-size="29.5" fill="#1a1a1a" textLength="46.75" lengthAdjust="spacingAndGlyphs">500</text>
<text x="729.20" y="847.2" font-size="29.5" fill="#1a1a1a" textLength="47.36" lengthAdjust="spacingAndGlyphs">600</text>
<text x="851.03" y="847.2" font-size="29.5" fill="#1a1a1a" textLength="45.93" lengthAdjust="spacingAndGlyphs">700</text>
<text x="352.41" y="897.5" font-size="32" font-weight="bold" fill="#1a1a1a" textLength="322.59" lengthAdjust="spacingAndGlyphs">Li Temperature (°C)</text>
<text x="270.40" y="153.1" font-size="35" fill="#46ade5" textLength="312.18" lengthAdjust="spacingAndGlyphs">Adatom-evaporation</text>
<text x="269.41" y="192.9" font-size="35" fill="#46ade5" textLength="174.21" lengthAdjust="spacingAndGlyphs">model, β=0</text>
<text x="547.20" y="223" font-size="35" fill="#3a5c1c" textLength="312.78" lengthAdjust="spacingAndGlyphs">Adatom-evaporation</text>
<text x="546.41" y="262.7" font-size="35" fill="#3a5c1c" textLength="267.98" lengthAdjust="spacingAndGlyphs">model, 500 µm Li</text>
<text x="535.70" y="347" font-size="35" fill="#5f141e" textLength="313.41" lengthAdjust="spacingAndGlyphs">Adatom-evaporation</text>
<text x="535.52" y="386.8" font-size="35" fill="#5f141e" textLength="248.10" lengthAdjust="spacingAndGlyphs">model, 25 µm Li</text>
<text x="441.83" y="547.7" font-size="35" fill="#1a1a1a" textLength="294.77" lengthAdjust="spacingAndGlyphs">Experimental Data,</text>
<text x="0" y="0" transform="translate(27.3 680.10) rotate(-90)" font-size="32" font-weight="bold" fill="#1a1a1a" textLength="529.18" lengthAdjust="spacingAndGlyphs">Atomic Li erosion yield (atoms/ion)</text>
<text y="587.3" font-size="35" fill="#1a1a1a"><tspan x="441.3">20 eV D</tspan><tspan x="566.3" dy="5.3" font-family="IPAGothic, Noto Sans CJK JP, sans-serif" font-size="36">→</tspan><tspan x="601.8" dy="-5.3">Li</tspan></text>
</svg>
</body></html>
